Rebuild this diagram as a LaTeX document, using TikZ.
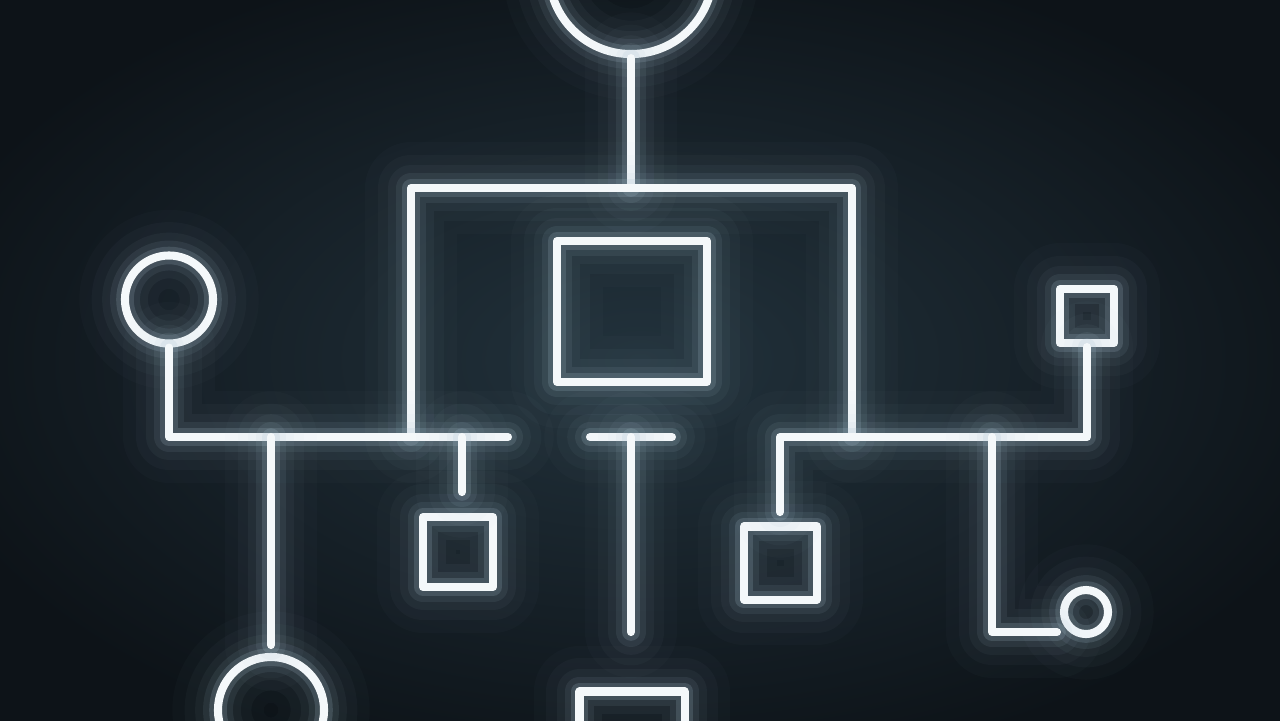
\documentclass[tikz,border=0pt]{standalone}
\definecolor{bgin}{HTML}{22323C}
\definecolor{bgout}{HTML}{0D1318}
\definecolor{glowc}{HTML}{A9C3D2}
\definecolor{linec}{HTML}{F4F8FA}
\tikzset{
  gl/.style={draw=glowc,line cap=round,line join=round},
  glow/.style={
    preaction={gl,line width=26pt,opacity=0.025},
    preaction={gl,line width=19pt,opacity=0.035},
    preaction={gl,line width=13pt,opacity=0.05},
    preaction={gl,line width=8.5pt,opacity=0.09},
    preaction={gl,line width=5pt,opacity=0.18}},
  wire/.style={glow, draw=linec, line width=2.3pt, line cap=round, line join=round},
  ring/.style={circle, wire, inner sep=0pt},
  box/.style={rectangle, wire, inner sep=0pt},
}
\begin{document}
\begin{tikzpicture}[x=0.01cm,y=-0.01cm]
  \useasboundingbox (0,0) rectangle (1280,720);
  \clip (0,0) rectangle (1280,720);
  \fill[bgout] (0,0) rectangle (1280,720);
  \shade[inner color=bgin, outer color=bgout] (-100,-60) rectangle (1380,780);

  % shapes
  \node[ring, minimum size=1.64cm] (topc) at (631,-28) {};
  \node[box, minimum width=1.5cm, minimum height=1.41cm] (cbox) at (632,311.5) {};
  \node[ring, minimum size=0.88cm] (lc) at (169,299.5) {};
  \node[ring, minimum size=1.06cm] (blc) at (271,710) {};
  \node[box, minimum size=0.70cm] (lsq) at (458,552) {};
  \node[box, minimum size=1.05cm] (bsq) at (632,744) {};
  \node[box, minimum size=0.73cm] (rsq) at (780.5,563) {};
  \node[box, minimum size=0.54cm] (trsq) at (1087,316) {};
  \node[ring, minimum size=0.44cm] (sc) at (1086,612) {};

  % junction coordinates
  \coordinate (jt) at (631,188);
  \coordinate (jtl) at (411,188);
  \coordinate (jtr) at (852,188);
  \coordinate (jl) at (411,437);
  \coordinate (jr) at (852,437);
  \coordinate (lbl) at (169,437);
  \coordinate (lend) at (508,437);
  \coordinate (ld) at (271,437);
  \coordinate (ldend) at (271,645);
  \coordinate (ls) at (462,437);
  \coordinate (lsend) at (462,492);
  \coordinate (tl) at (590,437);
  \coordinate (tr) at (672,437);
  \coordinate (tm) at (631,437);
  \coordinate (tend) at (631,632);
  \coordinate (rl) at (780,437);
  \coordinate (rlend) at (780,512);
  \coordinate (rr) at (1087,437);
  \coordinate (rd) at (992,437);
  \coordinate (rdb) at (992,632);
  \coordinate (rdend) at (1057,632);

  % connectors
  \draw[wire] (topc.south) -- (jt);
  \draw[wire] (jl) -- (jtl) -- (jtr) -- (jr);
  \draw[wire] (lc.south) -- (lbl) -- (lend);
  \draw[wire] (ld) -- (ldend);
  \draw[wire] (ls) -- (lsend);
  \draw[wire] (tl) -- (tr);
  \draw[wire] (tm) -- (tend);
  \draw[wire] (rlend) -- (rl) -- (rr) -- (trsq.south);
  \draw[wire] (rd) -- (rdb) -- (rdend);
\end{tikzpicture}
\end{document}
